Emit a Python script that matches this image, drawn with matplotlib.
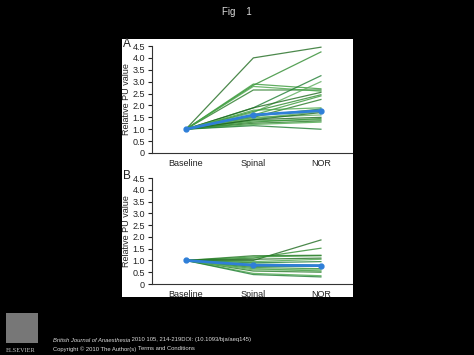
import matplotlib
matplotlib.use("Agg")
import matplotlib.pyplot as plt
from matplotlib.patches import Rectangle
from matplotlib.text import Annotation

plt.rcParams["font.family"] = ["Liberation Sans", "DejaVu Sans"]

categories = ["Baseline", "Spinal", "NOR"]
yticks = [0, 0.5, 1.0, 1.5, 2.0, 2.5, 3.0, 3.5, 4.0, 4.5]
yticklabels = ["0", "0.5", "1.0", "1.5", "2.0", "2.5", "3.0", "3.5", "4.0", "4.5"]

# Panel A individual subjects: (Baseline = 1.0, Spinal, NOR)
a_spinal = [4.0, 2.85, 2.9, 2.65, 2.8, 1.9, 1.7, 1.9, 1.75, 1.6, 1.5, 1.8, 1.55,
            1.45, 1.4, 1.3, 1.35, 1.25, 1.2, 1.15, 1.5, 1.4]
a_nor = [4.45, 4.25, 2.7, 2.65, 2.6, 3.25, 3.0, 2.55, 2.45, 2.4, 2.25, 1.9, 1.85,
         1.75, 1.5, 1.45, 1.4, 1.35, 1.3, 1.0, 1.6, 1.7]
a_mean = [1.0, 1.6, 1.78]

# Panel B individual subjects
b_spinal = [1.0, 1.1, 1.15, 1.2, 0.95, 0.9, 0.85, 0.75, 0.7, 0.65, 0.55, 0.45, 0.4, 0.6, 1.05]
b_nor = [1.87, 1.52, 1.2, 1.22, 1.05, 0.95, 0.8, 0.75, 0.65, 0.55, 0.5, 0.35, 0.3, 0.6, 1.1]
b_mean = [1.0, 0.8, 0.78]

greens = ["#1f6b1f", "#2e8b2e", "#3a9a3a", "#277a27", "#4aa84a", "#1e7d32", "#5aac5a"]

fig = plt.figure(figsize=(4.74, 3.55), dpi=100)
fig.patch.set_facecolor("black")

# white panel background
fig.patches.append(Rectangle((122 / 474, 1 - 297 / 355), (353 - 122) / 474, (297 - 39) / 355,
                             transform=fig.transFigure, facecolor="white", edgecolor="none", zorder=-10))

def panel(rect, spinal, nor, mean, letter, letter_y):
    ax = fig.add_axes(rect)
    ax.set_facecolor("none")
    x = list(range(len(categories)))
    for i, (s, n) in enumerate(zip(spinal, nor)):
        ax.plot(x, [1.0, s, n], color=greens[i % len(greens)], lw=0.9, alpha=0.8, zorder=2)
    ax.plot(x, mean, color="#2f7fd8", lw=2.0, marker="o", ms=3.5, zorder=3)
    ax.set_xlim(-0.5, 2.46)
    ax.set_ylim(0, 4.5)
    ax.set_yticks(yticks)
    ax.set_yticklabels(yticklabels)
    ax.set_xticks(x)
    ax.set_xticklabels(categories)
    for s in ["top", "right"]:
        ax.spines[s].set_visible(False)
    for s in ["left", "bottom"]:
        ax.spines[s].set_linewidth(0.8)
        ax.spines[s].set_color("#333333")
    ax.tick_params(axis="y", length=3, width=0.8, labelsize=6.5, pad=2, colors="#222222")
    ax.tick_params(axis="x", length=0, labelsize=6.5, pad=4, colors="#222222")
    ax.set_ylabel("Relative PU value", fontsize=6.5, labelpad=1, color="#222222")
    fig.text(123 / 474, 1 - letter_y / 355, letter, fontsize=8.5, color="#222222",
             ha="left", va="center")
    return ax

panel([152 / 474, 1 - 153 / 355, 200 / 474, 107 / 355], a_spinal, a_nor, a_mean, "A", 44)
panel([152 / 474, 1 - 284 / 355, 200 / 474, 106 / 355], b_spinal, b_nor, b_mean, "B", 176)

fig.text(237 / 474, 1 - 12 / 355, "Fig    1", ha="center", va="center", fontsize=7, color="#dddddd")

# footer
fig.patches.append(Rectangle((6 / 474, 1 - 343 / 355), 32 / 474, 30 / 355, transform=fig.transFigure,
                             facecolor="#777777", edgecolor="none"))
fig.text(6 / 474, 1 - 350 / 355, "ELSEVIER", fontsize=4.5, family="Liberation Serif", color="#cccccc",
         ha="left", va="center")
fs = 4.2
t1 = fig.text(53 / 474, 1 - 340 / 355, "British Journal of Anaesthesia", fontsize=fs, style="italic",
              color="#dddddd", ha="left", va="center")
fig.add_artist(Annotation(" 2010 105, 214-219DOI: (10.1093/bja/aeq145)",
                          xy=(1, 0.5), xycoords=t1, fontsize=fs, color="#dddddd",
                          ha="left", va="center"))
t2 = fig.text(53 / 474, 1 - 349 / 355, "Copyright \u00a9 2010 The Author(s) ", fontsize=fs,
              color="#dddddd", ha="left", va="center")
fig.add_artist(Annotation("Terms and Conditions", xy=(1, 0.5), xycoords=t2,
                          fontsize=fs, color="#dddddd", ha="left", va="center"))

fig.savefig("out.png", dpi=100, facecolor="black")
